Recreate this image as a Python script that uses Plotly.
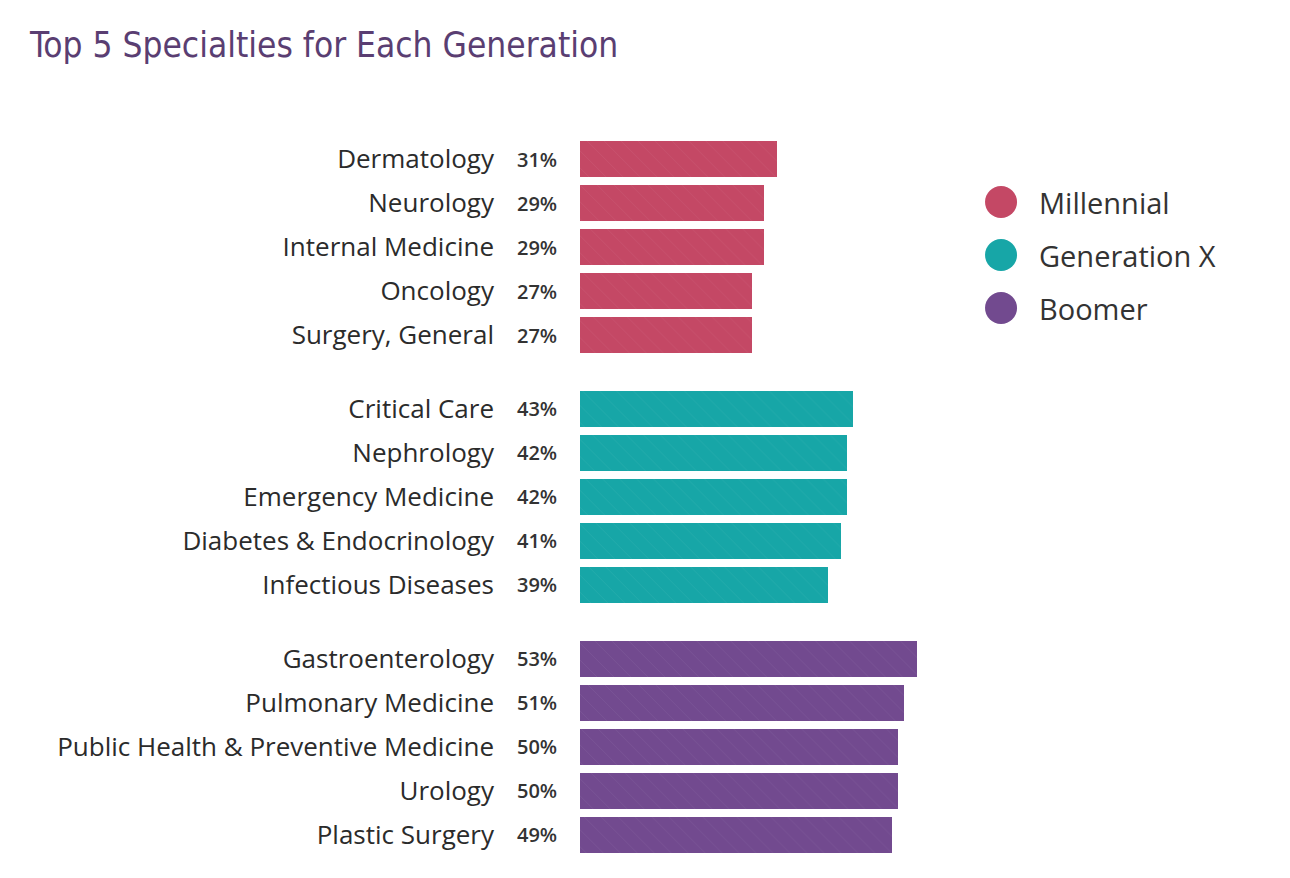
import plotly.graph_objects as go

# ---- data ----
millennial_specialties = ["Dermatology", "Neurology", "Internal Medicine", "Oncology", "Surgery, General"]
millennial_values = [31, 29, 29, 27, 27]
genx_specialties = ["Critical Care", "Nephrology", "Emergency Medicine", "Diabetes & Endocrinology", "Infectious Diseases"]
genx_values = [43, 42, 42, 41, 39]
boomer_specialties = ["Gastroenterology", "Pulmonary Medicine", "Public Health & Preventive Medicine", "Urology", "Plastic Surgery"]
boomer_values = [53, 51, 50, 50, 49]
generations = ["Millennial", "Generation X", "Boomer"]
colors = ["#c44865", "#17a6a7", "#724a8f"]

groups = [
    (millennial_specialties, millennial_values),
    (genx_specialties, genx_values),
    (boomer_specialties, boomer_values),
]

GROUP_STEP = 5.68  # rows between group starts (includes gap)
LABEL_FONT = "'Open Sans', Lato, sans-serif"

fig = go.Figure()
tickvals, ticktext = [], []
annotations = []
for g, ((cats, vals), name, col) in enumerate(zip(groups, generations, colors)):
    ys = [g * GROUP_STEP + i for i in range(len(cats))]
    tickvals += ys
    ticktext += cats
    fig.add_trace(go.Bar(
        x=vals, y=ys, orientation="h", name=name, width=0.82,
        marker=dict(color=col, line=dict(width=0),
                    pattern=dict(shape="\\", fgcolor="white", fgopacity=0.05, size=12, solidity=0.08)),
        showlegend=False, hoverinfo="x+text", hovertext=cats,
    ))
    for y, v in zip(ys, vals):
        annotations.append(dict(
            x=0, y=y, xref="x", yref="y", text=f"{v}%", showarrow=False,
            xanchor="left", xshift=-65, yanchor="middle",
            font=dict(family=LABEL_FONT, size=20, color="#333333", weight=600),
        ))

# legend drawn manually (large circles)
shapes = []
legend_y0 = 0.8668
legend_dy = 0.0692
legend_x = 0.5864
for k, (name, col) in enumerate(zip(generations, colors)):
    yy = legend_y0 - k * legend_dy
    shapes.append(dict(
        type="circle", xref="paper", yref="paper", xsizemode="pixel", ysizemode="pixel",
        xanchor=legend_x, yanchor=yy, x0=-16, x1=16, y0=-16, y1=16,
        fillcolor=col, line=dict(width=0),
    ))
    annotations.append(dict(
        x=legend_x, y=yy, xref="paper", yref="paper", text=name, showarrow=False,
        xanchor="left", yanchor="middle", xshift=36,
        font=dict(family=LABEL_FONT, size=29, color="#333333"),
    ))

PX_PER_UNIT = 6.36
PLOT_W = 718
fig.update_layout(
    width=1290, height=878,
    margin=dict(l=572, r=0, t=92, b=20),
    paper_bgcolor="white", plot_bgcolor="white",
    title=dict(text="Top 5 Specialties for Each Generation", x=0.017, xanchor="left",
               y=0.958, yanchor="middle",
               font=dict(family="'Liberation Sans Narrow', 'DejaVu Sans Condensed', sans-serif",
                         size=35, color="#5a3e72")),
    xaxis=dict(range=[0, PLOT_W / PX_PER_UNIT], visible=False, fixedrange=True),
    yaxis=dict(range=[16.068, -1.341], tickvals=tickvals, ticktext=ticktext,
               showgrid=False, zeroline=False, showline=False, ticks="",
               ticklabelstandoff=85,
               tickfont=dict(family=LABEL_FONT, size=26, color="#2b2b2b")),
    bargap=0, shapes=shapes, annotations=annotations, showlegend=False,
)

fig.write_html("out.html")
